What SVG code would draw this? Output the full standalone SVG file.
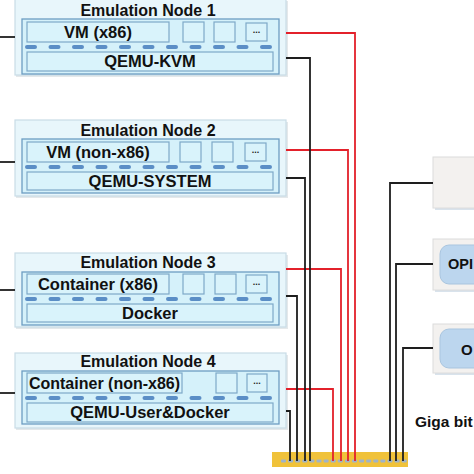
<svg xmlns="http://www.w3.org/2000/svg" width="474" height="474" viewBox="0 0 474 474">
<style>
.outer{fill:#e8f6fb;stroke:#c9dce6;stroke-width:1.2}
.shadow{fill:#e4e8ea}
.inner{fill:#d5f1fa;stroke:#6d9dc2;stroke-width:1.3}
.sub{fill:#d9f3fb;stroke:#7ea9c8;stroke-width:1.2}
.dash{stroke:#5b8ec6;stroke-width:4;stroke-linecap:round;stroke-dasharray:8 15.5;fill:none}
.t{font-family:"Liberation Sans",Arial,sans-serif;font-weight:bold;fill:#111;text-anchor:middle}
.title{font-size:16px}
.lbl{font-size:16.5px}
.dots{font-family:"Liberation Sans",Arial,sans-serif;font-weight:bold;font-size:9px;fill:#222;text-anchor:middle}
.blk{stroke:#1e1e1e;stroke-width:1.8;fill:none}
.red{stroke:#e3212b;stroke-width:1.8;fill:none}
.rbox{fill:#f3f1ef;stroke:#dcdcdc;stroke-width:1}
.rshadow{fill:#d9e3ec}
.pill{fill:#bcd6ee;stroke:#a9c5df;stroke-width:1}
.port{fill:#9fb3c9}
</style>

<g id="node1">
<rect class="shadow" x="16" y="1" width="272" height="76"/>
<rect class="outer" x="15" y="-1" width="271" height="76"/>
<text class="t title" x="148" y="16">Emulation Node 1</text>
<rect class="inner" x="22" y="19" width="257" height="55"/>
<rect class="sub" x="27" y="22" width="142" height="20"/>
<text class="t lbl" x="98" y="38">VM (x86)</text>
<rect class="sub" x="183" y="22" width="21" height="20"/>
<rect class="sub" x="214" y="22" width="21" height="20"/>
<rect class="sub" x="246" y="23" width="21" height="18"/>
<text class="dots" x="256.5" y="33">...</text>
<line class="dash" x1="27" y1="47" x2="276" y2="47"/>
<rect class="sub" x="27" y="52" width="246" height="19"/>
<text class="t lbl" x="150" y="67">QEMU-KVM</text>
</g>

<g id="node2">
<rect class="shadow" x="16" y="122" width="272" height="76"/>
<rect class="outer" x="15" y="120" width="271" height="76"/>
<text class="t title" x="148" y="136">Emulation Node 2</text>
<rect class="inner" x="22" y="139" width="257" height="54"/>
<rect class="sub" x="27" y="142" width="142" height="20"/>
<text class="t lbl" x="98" y="158">VM (non-x86)</text>
<rect class="sub" x="180" y="142" width="21" height="20"/>
<rect class="sub" x="212" y="142" width="21" height="20"/>
<rect class="sub" x="245" y="143" width="21" height="18"/>
<text class="dots" x="255.5" y="153">...</text>
<line class="dash" x1="27" y1="167" x2="276" y2="167"/>
<rect class="sub" x="27" y="172" width="246" height="18"/>
<text class="t lbl" x="150" y="187">QEMU-SYSTEM</text>
</g>

<g id="node3">
<rect class="shadow" x="16" y="255" width="272" height="74"/>
<rect class="outer" x="15" y="253" width="271" height="74"/>
<text class="t title" x="148" y="268">Emulation Node 3</text>
<rect class="inner" x="22" y="272" width="257" height="53"/>
<rect class="sub" x="27" y="274" width="142" height="20"/>
<text class="t lbl" x="98" y="290">Container (x86)</text>
<rect class="sub" x="183" y="274" width="21" height="20"/>
<rect class="sub" x="215" y="274" width="21" height="20"/>
<rect class="sub" x="246" y="275" width="21" height="18"/>
<text class="dots" x="256.5" y="285">...</text>
<line class="dash" x1="27" y1="299" x2="276" y2="299"/>
<rect class="sub" x="27" y="304" width="246" height="18"/>
<text class="t lbl" x="150" y="319">Docker</text>
</g>

<g id="node4">
<rect class="shadow" x="16" y="355" width="272" height="75"/>
<rect class="outer" x="15" y="353" width="271" height="75"/>
<text class="t title" x="148" y="367">Emulation Node 4</text>
<rect class="inner" x="22" y="371" width="257" height="53"/>
<rect class="sub" x="27" y="373" width="155" height="20"/>
<text class="t lbl" x="104.5" y="389" style="font-size:16px">Container (non-x86)</text>
<rect class="sub" x="216" y="373" width="21" height="20"/>
<rect class="sub" x="247" y="374" width="20" height="18"/>
<text class="dots" x="257" y="384">...</text>
<line class="dash" x1="27" y1="398" x2="276" y2="398"/>
<rect class="sub" x="27" y="403" width="246" height="19"/>
<text class="t lbl" x="150" y="418">QEMU-User&amp;Docker</text>
</g>

<g id="box1">
<rect class="rshadow" x="435" y="160" width="45" height="50"/>
<rect class="rbox" x="433" y="157" width="45" height="51"/>
</g>
<g id="box2">
<rect class="rshadow" x="435" y="241" width="45" height="51"/>
<rect class="rbox" x="433" y="239" width="45" height="51"/>
<rect class="pill" x="440" y="245" width="45" height="39" rx="9"/>
<text class="t" x="448" y="269" style="text-anchor:start;font-size:14.5px">OPI</text>
</g>
<g id="box3">
<rect class="rshadow" x="435" y="326" width="45" height="49"/>
<rect class="rbox" x="433" y="324" width="45" height="49"/>
<rect class="pill" x="440" y="329" width="45" height="39" rx="9"/>
<text class="t" x="461" y="355" style="text-anchor:start;font-size:15px">O</text>
</g>

<g id="switch">
<rect x="272" y="452" width="136" height="15" fill="#f0c23a"/>
<g class="port">
<rect x="281" y="459.5" width="5" height="3" rx="1"/>
<rect x="288.1" y="459.5" width="5" height="3" rx="1"/>
<rect x="295.2" y="459.5" width="5" height="3" rx="1"/>
<rect x="302.3" y="459.5" width="5" height="3" rx="1"/>
<rect x="309.4" y="459.5" width="5" height="3" rx="1"/>
<rect x="316.5" y="459.5" width="5" height="3" rx="1"/>
<rect x="323.6" y="459.5" width="5" height="3" rx="1"/>
<rect x="330.7" y="459.5" width="5" height="3" rx="1"/>
<rect x="337.8" y="459.5" width="5" height="3" rx="1"/>
<rect x="344.9" y="459.5" width="5" height="3" rx="1"/>
<rect x="352" y="459.5" width="5" height="3" rx="1"/>
<rect x="359.1" y="459.5" width="5" height="3" rx="1"/>
<rect x="366.2" y="459.5" width="5" height="3" rx="1"/>
<rect x="373.3" y="459.5" width="5" height="3" rx="1"/>
<rect x="380.4" y="459.5" width="5" height="3" rx="1"/>
<rect x="387.5" y="459.5" width="5" height="3" rx="1"/>
<rect x="394.6" y="459.5" width="5" height="3" rx="1"/>
<rect x="401.7" y="459.5" width="5" height="3" rx="1"/>
</g>
</g>

<text class="t" x="415" y="427" style="text-anchor:start;font-size:15.5px">Giga bit</text>

<g id="connectors">
<line class="blk" x1="0" y1="37" x2="15" y2="37"/>
<line class="blk" x1="0" y1="162" x2="15" y2="162"/>
<line class="blk" x1="0" y1="290" x2="15" y2="290"/>
<line class="blk" x1="0" y1="393" x2="15" y2="393"/>
<polyline class="red" points="286,33 355,33 355,461"/>
<polyline class="red" points="286,150 348,150 348,461"/>
<polyline class="red" points="286,269 341,269 341,461"/>
<polyline class="red" points="286,389 333,389 333,461"/>
<polyline class="blk" points="286,58 310,58 310,461"/>
<polyline class="blk" points="286,178 305,178 305,461"/>
<polyline class="blk" points="286,296 297,296 297,461"/>
<polyline class="blk" points="286,411 290,411 290,461"/>
<polyline class="blk" points="433,183 390,183 390,461"/>
<polyline class="blk" points="433,264 396,264 396,461"/>
<polyline class="blk" points="433,348 403,348 403,461"/>
</g>
</svg>
